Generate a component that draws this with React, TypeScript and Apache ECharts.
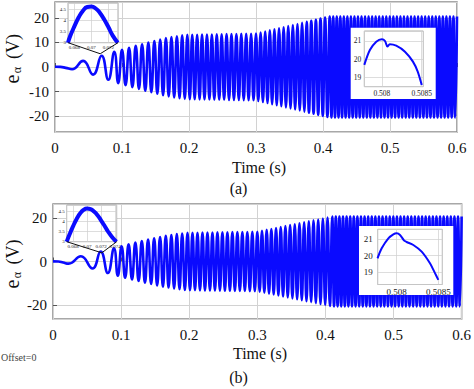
import React, { useEffect, useRef } from "react";
import * as echarts from "echarts";

const SERIF = "Liberation Serif";
const BLUE = "#0a0aff";

// ---------- Panel (a): main signal, extrema ----------
const earlyTimeA = [0, 0.008, 0.016, 0.0255, 0.042, 0.0568, 0.0695, 0.0795, 0.0885, 0.0943, 0.1, 0.1053, 0.1105, 0.1155, 0.1205, 0.1253, 0.13, 0.1347, 0.1393, 0.1438, 0.1483, 0.1527, 0.157, 0.1613, 0.1655, 0.1697, 0.1738, 0.1779, 0.1819, 0.1859, 0.1898, 0.1937, 0.1975];
const earlyValA = [0.1, 0.05, -0.35, -0.9, 2.5, -3.1, 4.6, -5.2, 6.2, -6.6, 7.0, -7.4, 7.8, -8.2, 8.6, -8.9, 9.3, -9.7, 10.0, -10.3, 10.6, -10.9, 11.2, -11.5, 11.8, -12.0, 12.2, -12.4, 12.5, -12.7, 12.9, -13.0, 13.1];
// dense part: segment end time, number of half cycles, amplitude at segment end
const segEndA = [0.3, 0.41, 0.6];
const segHalfA = [28, 32, 72];
const segAmpA = [13.6, 20.6, 20.6];

// ---------- Panel (b) ----------
const earlyTimeB = [0, 0.008, 0.015, 0.023, 0.041, 0.058, 0.07, 0.0805, 0.0895, 0.0951, 0.1007, 0.1059, 0.111, 0.116, 0.1209, 0.1257, 0.1304, 0.135, 0.1396, 0.1441, 0.1485, 0.1529, 0.1572, 0.1614, 0.1656, 0.1697, 0.1738, 0.1778, 0.1818, 0.1858, 0.1897, 0.1936, 0.1975];
const earlyValB = [0.05, 0, -0.5, -1.0, 2.4, -3.2, 4.6, -5.3, 6.1, -6.6, 7.0, -7.5, 7.9, -8.3, 8.7, -9.0, 9.4, -9.8, 10.1, -10.4, 10.7, -11.0, 11.3, -11.6, 11.8, -12.0, 12.2, -12.4, 12.6, -12.8, 12.9, -13.1, 13.2];
const segEndB = [0.3, 0.41, 0.6];
const segHalfB = [28, 32, 72];
const segAmpB = [13.7, 20.7, 20.7];

// ---------- Insets ----------
const insetLeftTimeA = [0.06724, 0.0675, 0.068, 0.0685, 0.069, 0.0695, 0.07, 0.0705, 0.071, 0.0715, 0.072, 0.0725, 0.0731];
const insetLeftValA = [3.0, 3.3, 3.75, 4.15, 4.45, 4.62, 4.64, 4.55, 4.35, 4.05, 3.7, 3.32, 3.0];
const insetRightTimeA = [0.50778, 0.50785, 0.50793, 0.508, 0.50804, 0.50807, 0.5081, 0.50818, 0.50829, 0.50839, 0.50845, 0.5085];
const insetRightValA = [19.68, 20.5, 20.96, 21.1, 21.0, 20.69, 20.82, 20.74, 20.41, 19.86, 19.31, 18.58];

const insetLeftTimeB = [0.0671, 0.0675, 0.068, 0.0685, 0.069, 0.0695, 0.07, 0.0705, 0.071, 0.0715, 0.072, 0.0725, 0.073, 0.0736, 0.0742];
const insetLeftValB = [3.0, 3.35, 3.75, 4.1, 4.38, 4.56, 4.63, 4.6, 4.48, 4.3, 4.05, 3.78, 3.5, 3.22, 3.0];
const insetRightTimeB = [0.50777, 0.50782, 0.5079, 0.50796, 0.508, 0.50804, 0.50809, 0.50812, 0.5082, 0.5083, 0.5084, 0.50846, 0.5085];
const insetRightValB = [19.84, 20.44, 21.04, 21.28, 21.34, 21.24, 20.9, 20.82, 20.64, 20.24, 19.54, 18.95, 18.55];

// axis extents / tick steps
const mainX = [0, 0.6, 0.1];
const mainY = [-26.5, 26.5];
const mainYStepA = 10;
const mainYStepB = 20;
const insLAx = [0.06724, 0.07312, 0.002];
const insLBx = [0.0671, 0.07424, 0.002];
const insLy = [3, 4.8, 0.5];
const insRAx = [0.50778, 0.50852, 0.0005];
const insRAy = [18.48, 21.55, 1];
const insRBx = [0.507772, 0.508548, 0.0005];
const insRBy = [18.27, 21.58, 1];
// connector target points on the main curves
const zoomPointA = [0.0675, 5.4];
const zoomPointB = [0.0717, 4.0];

function buildWave(tArr: number[], vArr: number[], ends: number[], halves: number[], amps: number[]) {
  const pts: number[][] = tArr.map((t, i) => [t, vArr[i]]);
  let tPrev = tArr[tArr.length - 1];
  let aPrev = Math.abs(vArr[vArr.length - 1]);
  let sign = vArr[vArr.length - 1] > 0 ? -1 : 1;
  for (let s = 0; s < ends.length; s++) {
    const n = halves[s];
    const dt = (ends[s] - tPrev) / n;
    for (let k = 1; k <= n; k++) {
      const a = aPrev + ((amps[s] - aPrev) * k) / n;
      pts.push([tPrev + k * dt, sign * a]);
      sign = -sign;
    }
    tPrev = ends[s];
    aPrev = amps[s];
  }
  return pts;
}

const fmt = (d: number) => (v: number) => String(+v.toFixed(d));

function mainXAxis(gridIndex: number) {
  return {
    type: "value", gridIndex, min: mainX[0], max: mainX[1], interval: mainX[2],
    axisLine: { show: false },
    axisTick: { show: true, inside: true, length: 4, lineStyle: { color: "#555" } },
    axisLabel: { color: "#111", fontFamily: SERIF, fontSize: 15, margin: 8, formatter: fmt(2) },
    splitLine: { show: true, lineStyle: { color: "#d2d2d2", width: 1 } },
  };
}
function mainYAxis(gridIndex: number, step: number) {
  return {
    type: "value", gridIndex, min: mainY[0], max: mainY[1], minInterval: step, maxInterval: step,
    axisLine: { show: false },
    axisTick: { show: true, inside: true, length: 4, lineStyle: { color: "#555" } },
    axisLabel: { color: "#111", fontFamily: SERIF, fontSize: 15, margin: 6, showMinLabel: false, showMaxLabel: false, formatter: fmt(0) },
    splitLine: { show: true, lineStyle: { color: "#d2d2d2", width: 1 } },
  };
}
function insetAxis(gridIndex: number, ext: number[], fs: number, margin: number, showMin: boolean, digits: number) {
  return {
    type: "value", gridIndex, min: ext[0], max: ext[1], minInterval: ext[2], maxInterval: ext[2], z: 6,
    axisLine: { show: false },
    axisTick: { show: false },
    axisLabel: { color: "#222", fontFamily: SERIF, fontSize: fs, margin, showMinLabel: showMin, showMaxLabel: false, formatter: fmt(digits) },
    splitLine: { show: true, lineStyle: { color: "#cfcfcf", width: 0.7 } },
  };
}

export default function App() {
  const ref = useRef<HTMLDivElement>(null);
  useEffect(() => {
    if (!ref.current) return;
    const chart = echarts.init(ref.current, undefined, { renderer: "svg" });
    const waveA = buildWave(earlyTimeA, earlyValA, segEndA, segHalfA, segAmpA);
    const waveB = buildWave(earlyTimeB, earlyValB, segEndB, segHalfB, segAmpB);
    const mainGrid = { show: true, borderColor: "#8c8c8c", borderWidth: 1.5, backgroundColor: "transparent" };
    const insGrid = { show: true, borderColor: "#9a9a9a", borderWidth: 0.8, backgroundColor: "#fff", z: 5 };
    chart.setOption({
      animation: false,
      textStyle: { fontFamily: SERIF },
      grid: [
        { ...mainGrid, left: 55, top: 2, width: 402, height: 130 },
        { ...mainGrid, left: 53, top: 204, width: 411, height: 115 },
        { ...insGrid, left: 68, top: 3, width: 50, height: 39.7 },
        { ...insGrid, left: 364.3, top: 31, width: 59, height: 55.7 },
        { ...insGrid, left: 66.7, top: 205, width: 50, height: 36.7 },
        { ...insGrid, left: 377.7, top: 229.3, width: 64.6, height: 55.2 },
      ],
      xAxis: [
        mainXAxis(0),
        mainXAxis(1),
        insetAxis(2, insLAx, 5, 2, false, 4),
        insetAxis(3, insRAx, 7.5, 3, false, 4),
        insetAxis(4, insLBx, 5, 2, false, 4),
        insetAxis(5, insRBx, 9, 3, false, 4),
      ],
      yAxis: [
        mainYAxis(0, mainYStepA),
        mainYAxis(1, mainYStepB),
        insetAxis(2, insLy, 5, 2, true, 1),
        insetAxis(3, insRAy, 7.5, 3, false, 0),
        insetAxis(4, insLy, 5, 2, true, 1),
        insetAxis(5, insRBy, 9, 5, false, 0),
      ],
      series: [
        { type: "line", xAxisIndex: 0, yAxisIndex: 0, data: waveA, showSymbol: false, smooth: 0.5, silent: true, z: 2, lineStyle: { color: BLUE, width: 2.6 } },
        { type: "line", xAxisIndex: 1, yAxisIndex: 1, data: waveB, showSymbol: false, smooth: 0.5, silent: true, z: 2, lineStyle: { color: BLUE, width: 2.6 } },
        { type: "line", xAxisIndex: 2, yAxisIndex: 2, data: insetLeftTimeA.map((t, i) => [t, insetLeftValA[i]]), showSymbol: false, smooth: true, silent: true, z: 7, lineStyle: { color: BLUE, width: 4 } },
        { type: "line", xAxisIndex: 3, yAxisIndex: 3, data: insetRightTimeA.map((t, i) => [t, insetRightValA[i]]), showSymbol: false, smooth: 0.3, silent: true, z: 7, lineStyle: { color: BLUE, width: 2 } },
        { type: "line", xAxisIndex: 4, yAxisIndex: 4, data: insetLeftTimeB.map((t, i) => [t, insetLeftValB[i]]), showSymbol: false, smooth: true, silent: true, z: 7, lineStyle: { color: BLUE, width: 4 } },
        { type: "line", xAxisIndex: 5, yAxisIndex: 5, data: insetRightTimeB.map((t, i) => [t, insetRightValB[i]]), showSymbol: false, smooth: 0.3, silent: true, z: 7, lineStyle: { color: BLUE, width: 2 } },
      ],
    });

    const pA = chart.convertToPixel({ gridIndex: 0 }, zoomPointA) as number[];
    const pB = chart.convertToPixel({ gridIndex: 1 }, zoomPointB) as number[];
    const aL = chart.convertToPixel({ gridIndex: 2 }, [insLAx[0], insLy[0]]) as number[];
    const aR = chart.convertToPixel({ gridIndex: 2 }, [insLAx[1], insLy[0]]) as number[];
    const bL = chart.convertToPixel({ gridIndex: 4 }, [insLBx[0], insLy[0]]) as number[];
    const bR = chart.convertToPixel({ gridIndex: 4 }, [insLBx[1], insLy[0]]) as number[];
    const conn = (p: number[], q: number[]) => ({
      type: "line", z: 8, shape: { x1: p[0], y1: p[1], x2: q[0], y2: q[1] }, style: { stroke: "#111", lineWidth: 1 },
    });
    const txt = (text: string, x: number, y: number, size: number, rot = 0, align = "center") => ({
      type: "text", x, y, rotation: rot, z: 10,
      style: { text, fontFamily: SERIF, fontSize: size, fill: "#111", align, verticalAlign: "middle" },
    });
    chart.setOption({
      graphic: {
        elements: [
          { type: "rect", z: 4, shape: { x: 350.7, y: 27.7, width: 85, height: 71.3 }, style: { fill: "#fff" } },
          { type: "rect", z: 4, shape: { x: 359, y: 226, width: 94.3, height: 69 }, style: { fill: "#fff" } },
          conn(aL, pA), conn(aR, pA), conn(bL, pB), conn(bR, pB),
          txt("(V)", 12.5, 46.5, 18, Math.PI / 2),
          txt("e", 12, 79, 20, Math.PI / 2),
          txt("α", 17, 70, 12, Math.PI / 2),
          txt("(V)", 12.5, 252, 18, Math.PI / 2),
          txt("e", 12, 284, 20, Math.PI / 2),
          txt("α", 17, 275, 12, Math.PI / 2),
          txt("Time (s)", 259, 167, 16),
          txt("(a)", 238.5, 188, 16),
          txt("Time (s)", 260, 353, 16),
          txt("(b)", 238.5, 377, 16),
          { type: "text", x: 1, y: 357, z: 10, style: { text: "Offset=0", fontFamily: SERIF, fontSize: 10, fill: "#444", align: "left", verticalAlign: "middle" } },
        ],
      },
    });
    return () => chart.dispose();
  }, []);
  return <div ref={ref} style={{ position: "fixed", left: 0, top: 0, width: 474, height: 389, background: "#fff" }} />;
}
